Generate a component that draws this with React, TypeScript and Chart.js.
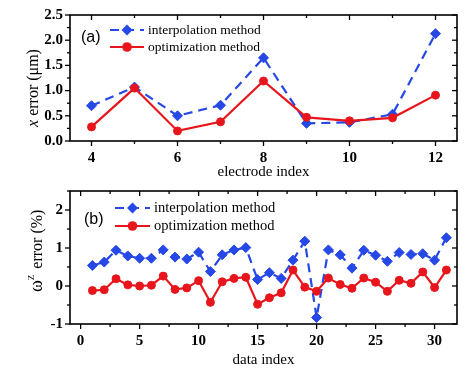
import React, { useEffect, useRef } from 'react';
import { Chart, registerables } from 'chart.js';

Chart.register(...registerables);

// ---------- data ----------
const electrodeIndex = [4, 5, 6, 7, 8, 9, 10, 11, 12];
const xErrorInterp = [0.70, 1.07, 0.50, 0.71, 1.65, 0.35, 0.37, 0.53, 2.13];
const xErrorOptim = [0.28, 1.05, 0.20, 0.38, 1.19, 0.47, 0.40, 0.46, 0.91];

const dataIndex = [1, 2, 3, 4, 5, 6, 7, 8, 9, 10, 11, 12, 13, 14, 15, 16, 17, 18, 19, 20, 21, 22, 23, 24, 25, 26, 27, 28, 29, 30, 31];
const wzErrorInterp = [0.54, 0.63, 0.94, 0.79, 0.73, 0.73, 0.95, 0.76, 0.71, 0.89, 0.38, 0.82, 0.95, 1.01, 0.17, 0.35, 0.20, 0.68, 1.18, -0.83, 0.95, 0.82, 0.47, 0.94, 0.81, 0.65, 0.88, 0.83, 0.85, 0.68, 1.27];
const wzErrorOptim = [-0.12, -0.10, 0.19, 0.03, 0.00, 0.02, 0.26, -0.09, -0.05, 0.14, -0.43, 0.11, 0.20, 0.23, -0.48, -0.31, -0.18, 0.42, -0.03, -0.14, 0.21, 0.04, -0.06, 0.21, 0.10, -0.14, 0.15, 0.07, 0.37, -0.04, 0.42];

const legendLabels = ['interpolation method', 'optimization method'];
const panelLabels = ['(a)', '(b)'];
const xTitles = ['electrode index', 'data index'];

// ---------- styles ----------
const BLUE = '#2548e6';
const RED = '#e8161c';
const SERIF = '"Liberation Serif", "Times New Roman", serif';
const SANS = '"Liberation Sans", Arial, sans-serif';
const DASH = [9, 6];

type Panel = {
  width: number;
  height: number;
  padTop: number;
  padRight: number;
  yAxisW: number;
  xAxisH: number;
  xTitlePad: number;
  xMin: number; xMax: number; xStep: number; xMinor: number;
  yMin: number; yMax: number; yStep: number; yMinor: number; yDec: number;
  xs: number[]; interp: number[]; optim: number[];
  xTitle: string;
  label: string; labelX: number; labelY: number;
  legY: number[]; legX1: number; legX2: number; legTx: number; legFont: number;
  yTitle: (ctx: CanvasRenderingContext2D) => void;
};

function drawDiamond(ctx: CanvasRenderingContext2D, x: number, y: number, r: number) {
  ctx.beginPath();
  ctx.moveTo(x, y - r); ctx.lineTo(x + r, y); ctx.lineTo(x, y + r); ctx.lineTo(x - r, y);
  ctx.closePath(); ctx.fill();
}

function makePlugin(p: Panel) {
  return {
    id: 'decor',
    afterDraw(chart: any) {
      const ctx: CanvasRenderingContext2D = chart.ctx;
      const a = chart.chartArea;
      const xs = chart.scales.x, ys = chart.scales.y;
      const eps = 1e-6;
      ctx.save();
      ctx.strokeStyle = '#000';
      ctx.lineWidth = 1.3;
      const seg = (x1: number, y1: number, x2: number, y2: number) => {
        ctx.beginPath(); ctx.moveTo(x1, y1); ctx.lineTo(x2, y2); ctx.stroke();
      };
      for (let k = Math.ceil(p.xMin / p.xMinor - eps); k * p.xMinor <= p.xMax + eps; k++) {
        const v = k * p.xMinor;
        const px = xs.getPixelForValue(v);
        const major = Math.abs(v / p.xStep - Math.round(v / p.xStep)) < eps;
        const L = major ? 5 : 3;
        seg(px, a.bottom, px, a.bottom + L);
        seg(px, a.top, px, a.top + L);
      }
      for (let k = Math.ceil(p.yMin / p.yMinor - eps); k * p.yMinor <= p.yMax + eps; k++) {
        const v = k * p.yMinor;
        const py = ys.getPixelForValue(v);
        const major = Math.abs(v / p.yStep - Math.round(v / p.yStep)) < eps;
        const L = major ? 5 : 3;
        seg(a.left, py, a.left - L, py);
        seg(a.right, py, a.right - L, py);
      }
      ctx.lineWidth = 1.6;
      ctx.strokeRect(a.left, a.top, a.right - a.left, a.bottom - a.top);

      // panel label
      ctx.fillStyle = '#000';
      ctx.font = `16px ${SANS}`;
      ctx.textAlign = 'left';
      ctx.textBaseline = 'middle';
      ctx.fillText(p.label, p.labelX, p.labelY);

      // legend
      const items = [
        { color: BLUE, dash: DASH, marker: 'diamond' },
        { color: RED, dash: [] as number[], marker: 'circle' },
      ];
      items.forEach((it, i) => {
        const y = p.legY[i];
        ctx.strokeStyle = it.color;
        ctx.fillStyle = it.color;
        ctx.lineWidth = 2.2;
        ctx.setLineDash(it.dash);
        seg(p.legX1, y, p.legX2, y);
        ctx.setLineDash([]);
        const mx = (p.legX1 + p.legX2) / 2;
        if (it.marker === 'diamond') drawDiamond(ctx, mx, y, 5.5);
        else { ctx.beginPath(); ctx.arc(mx, y, 4.8, 0, Math.PI * 2); ctx.fill(); }
        ctx.fillStyle = '#000';
        ctx.font = `${p.legFont}px ${SERIF}`;
        ctx.textBaseline = 'middle';
        ctx.fillText(legendLabels[i], p.legTx, y);
      });

      // y title
      ctx.fillStyle = '#000';
      p.yTitle(ctx);
      ctx.restore();
    },
  };
}

function PanelChart({ p }: { p: Panel }) {
  const ref = useRef<HTMLCanvasElement>(null);
  useEffect(() => {
    if (!ref.current) return;
    const tickFont = { family: SERIF, size: 15, weight: 'bold' as const };
    const chart = new Chart(ref.current, {
      type: 'line',
      data: {
        datasets: [
          {
            label: legendLabels[1],
            data: p.xs.map((x, i) => ({ x, y: p.optim[i] })),
            borderColor: RED,
            backgroundColor: RED,
            borderWidth: 2.2,
            pointStyle: 'circle',
            pointRadius: 4,
            pointBorderWidth: 1,
            pointBackgroundColor: RED,
            pointBorderColor: RED,
          },
          {
            label: legendLabels[0],
            data: p.xs.map((x, i) => ({ x, y: p.interp[i] })),
            borderColor: BLUE,
            backgroundColor: BLUE,
            borderWidth: 2.2,
            borderDash: DASH,
            pointStyle: 'rectRot',
            pointRadius: 5,
            pointBorderWidth: 1,
            pointBackgroundColor: BLUE,
            pointBorderColor: BLUE,
          },
        ],
      },
      options: {
        animation: false,
        responsive: false,
        devicePixelRatio: 1,
        layout: { padding: { top: p.padTop, right: p.padRight, left: 0, bottom: 0 } },
        plugins: { legend: { display: false }, tooltip: { enabled: false } },
        scales: {
          x: {
            type: 'linear',
            min: p.xMin,
            max: p.xMax,
            grid: { display: false, drawTicks: false },
            border: { display: false },
            ticks: {
              stepSize: p.xStep,
              includeBounds: false,
              color: '#000',
              font: tickFont,
              padding: 8,
              maxRotation: 0,
              autoSkip: false,
            },
            title: {
              display: true,
              text: p.xTitle,
              color: '#000',
              font: { family: SERIF, size: 15 },
              padding: { top: 0, bottom: p.xTitlePad },
            },
            afterFit: (s: any) => { s.height = p.xAxisH; s.paddingLeft = 0; s.paddingRight = 0; },
          },
          y: {
            type: 'linear',
            min: p.yMin,
            max: p.yMax,
            grid: { display: false, drawTicks: false },
            border: { display: false },
            ticks: {
              stepSize: p.yStep,
              includeBounds: false,
              color: '#000',
              font: tickFont,
              padding: 7,
              autoSkip: false,
              callback: (v: any) => Number(v).toFixed(p.yDec),
            },
            afterFit: (s: any) => { s.width = p.yAxisW; s.paddingTop = 0; s.paddingBottom = 0; },
          },
        },
      },
      plugins: [makePlugin(p)],
    } as any);
    return () => chart.destroy();
  }, [p]);
  return <canvas ref={ref} width={p.width} height={p.height} style={{ display: 'block' }} />;
}

const panelA: Panel = {
  width: 474, height: 185, padTop: 15, padRight: 17, yAxisW: 70, xAxisH: 44, xTitlePad: 4,
  xMin: 3.5, xMax: 12.5, xStep: 2, xMinor: 1,
  yMin: 0, yMax: 2.5, yStep: 0.5, yMinor: 0.25, yDec: 1,
  xs: electrodeIndex, interp: xErrorInterp, optim: xErrorOptim,
  xTitle: xTitles[0],
  label: panelLabels[0], labelX: 81, labelY: 38,
  legY: [30, 47], legX1: 110, legX2: 144, legTx: 148, legFont: 13.5,
  yTitle: (ctx) => {
    ctx.save();
    ctx.translate(38, 88);
    ctx.rotate(-Math.PI / 2);
    ctx.textBaseline = 'alphabetic';
    ctx.textAlign = 'left';
    const f1 = `italic 16px ${SERIF}`;
    const f2 = `16px ${SERIF}`;
    const t1 = 'x';
    const t2 = ' error (\u03bcm)';
    ctx.font = f1; const w1 = ctx.measureText(t1).width;
    ctx.font = f2; const w2 = ctx.measureText(t2).width;
    let x = -(w1 + w2) / 2;
    ctx.font = f1; ctx.fillText(t1, x, 0); x += w1;
    ctx.font = f2; ctx.fillText(t2, x, 0);
    ctx.restore();
  },
};

const panelB: Panel = {
  width: 474, height: 188, padTop: 5, padRight: 17, yAxisW: 70, xAxisH: 49, xTitlePad: 4,
  xMin: -0.9, xMax: 31.9, xStep: 5, xMinor: 2.5,
  yMin: -1, yMax: 2.5, yStep: 1, yMinor: 0.5, yDec: 0,
  xs: dataIndex, interp: wzErrorInterp, optim: wzErrorOptim,
  xTitle: xTitles[1],
  label: panelLabels[1], labelX: 84, labelY: 35,
  legY: [23, 41], legX1: 115, legX2: 150, legTx: 154, legFont: 14.5,
  yTitle: (ctx) => {
    ctx.save();
    ctx.translate(42, 107);
    ctx.rotate(-Math.PI / 2);
    ctx.textBaseline = 'alphabetic';
    ctx.textAlign = 'left';
    const fw = `18px ${SERIF}`;
    const fz = `9px ${SERIF}`;
    const fm = `16px ${SERIF}`;
    let x = 0;
    ctx.font = fw; ctx.fillText('\u03c9', x, 0); x += ctx.measureText('\u03c9').width;
    ctx.font = fz; ctx.fillText('Z', x, -8); x += ctx.measureText('Z').width;
    ctx.font = fm; ctx.fillText(' error (%)', x + 2, 0);
    ctx.restore();
  },
};

export default function App() {
  return (
    <div style={{ position: 'absolute', left: 0, top: 0, width: 474, height: 373, background: '#fff' }}>
      <PanelChart p={panelA} />
      <PanelChart p={panelB} />
    </div>
  );
}
